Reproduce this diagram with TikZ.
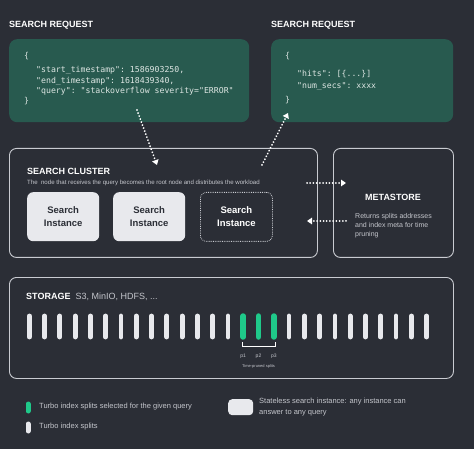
\documentclass[tikz,border=0pt]{standalone}
\usepackage{fontspec}
\setmainfont{Liberation Sans}
\setmonofont{DejaVu Sans Mono}
\usetikzlibrary{arrows.meta}
\definecolor{bg}{HTML}{2B2E36}
\definecolor{codebg}{HTML}{285A4F}
\definecolor{split}{HTML}{1FC98A}
\definecolor{pale}{HTML}{E8E9ED}
\definecolor{rim}{HTML}{C9CBD1}
\definecolor{codetxt}{HTML}{DDE6E3}
\definecolor{faint}{HTML}{C4C6CC}
\tikzstyle{head}=[font=\bfseries\fontsize{9}{11}\selectfont,text=white,anchor=west,inner sep=0pt]
\tikzstyle{panel}=[draw=rim,line width=.9pt,rounded corners=7pt,anchor=north west]
\tikzstyle{codebox}=[fill=codebg,rounded corners=8pt,anchor=north west]
\tikzstyle{code}=[font=\ttfamily\fontsize{8.2}{11}\selectfont,text=codetxt,anchor=west,inner sep=0pt]
\tikzstyle{inst}=[minimum width=72pt,minimum height=49pt,rounded corners=6pt,align=center,inner sep=0pt,anchor=north west,font=\bfseries\fontsize{9.5}{13}\selectfont]
\tikzstyle{note}=[font=\fontsize{7}{9}\selectfont,text=faint,anchor=west,inner sep=0pt,align=left]
\tikzstyle{flow}=[line width=2pt,white,line cap=round,dash pattern=on 0.01pt off 3.2pt,-{Triangle[length=5pt,width=6.5pt]}]
\tikzstyle{bar}=[line width=4.8pt,line cap=round,pale]
\tikzstyle{hit}=[line width=5.5pt,line cap=round,split]

\begin{document}
\begin{tikzpicture}[x=1pt,y=-1pt]
	\fill[bg] (0,0) rectangle (474,449);
	\useasboundingbox (0,0) rectangle (474,449);
	% requests
	\node[head] (reqlbl) at (9,25) {SEARCH REQUEST};
	\node[codebox,minimum width=240pt,minimum height=83pt] (req) at (9,39) {};
	\node[code] (q0) at (24,56) {\{};
	\node[code] (q1) at (36,70) {"start\_timestamp": 1586903250,};
	\node[code] (q2) at (36,81) {"end\_timestamp": 1618439340,};
	\node[code] (q3) at (36,91) {"query": "stackoverflow severity="ERROR"};
	\node[code] (q4) at (24,101) {\}};
	\node[head] (reslbl) at (271,25) {SEARCH REQUEST};
	\node[codebox,minimum width=182pt,minimum height=83pt] (res) at (271,39) {};
	\node[code] (r0) at (285,56) {\{};
	\node[code] (r1) at (297,74) {"hits": [\{...\}]};
	\node[code] (r2) at (297,86) {"num\_secs": xxxx};
	\node[code] (r3) at (285,100) {\}};
	% cluster
	\node[panel,minimum width=308pt,minimum height=109pt] (cluster) at (9,148) {};
	\node[head] (clulbl) at (27,171) {SEARCH CLUSTER};
	\node[note,font=\fontsize{6.1}{8}\selectfont] (clusub) at (27,183)
	  {The\ \ node that receives the query becomes the root node and distributes the workload};
	\node[inst,fill=pale,text=bg] (inst1) at (27,192) {Search\\Instance};
	\node[inst,fill=pale,text=bg] (inst2) at (113,192) {Search\\Instance};
	\node[inst,fill=bg,text=white,draw=rim,line width=.8pt,densely dotted] (inst3) at (200,192) {Search\\Instance};
	% metastore
	\node[panel,minimum width=120pt,minimum height=109pt] (meta) at (333,148) {};
	\node[head,anchor=center] (metalbl) at (393,197) {METASTORE};
	\node[note] (metasub) at (355,226) {Returns splits addresses\\and index meta for time\\pruning};
	% flows
	\coordinate (qout) at (137,110);
	\coordinate (qin) at (157,165);
	\coordinate (rout) at (262,165);
	\coordinate (rin) at (288,113);
	\coordinate (mout) at (307,183);
	\coordinate (min) at (346,183);
	\coordinate (bout) at (346,221);
	\coordinate (bin) at (307,221);
	\draw[flow] (qout) -- (qin);
	\draw[flow] (rout) -- (rin);
	\draw[flow] (mout) -- (min);
	\draw[flow] (bout) -- (bin);
	% storage
	\node[panel,minimum width=444pt,minimum height=101pt] (store) at (9,277) {};
	\node[head] (storelbl) at (26,297) {STORAGE\ \ \mdseries\color{faint}S3, MinIO, HDFS, ...};
	\foreach \i in {0,...,26} {
	  \pgfmathsetmacro\bx{29.3+15.28*\i}
	  \ifnum\i>13 \ifnum\i<17
	    \draw[hit] (\bx,316) -- (\bx,337);
	  \else
	    \draw[bar] (\bx,316) -- (\bx,337);
	  \fi\else
	    \draw[bar] (\bx,316) -- (\bx,337);
	  \fi
	}
	\draw[white,line width=1pt] (242,342) -- (242,346.5) -- (275.5,346.5) -- (275.5,342);
	\node[note,anchor=center,font=\fontsize{5}{6}\selectfont] (p1) at (243.2,356) {p1};
	\node[note,anchor=center,font=\fontsize{5}{6}\selectfont] (p2) at (258.5,356) {p2};
	\node[note,anchor=center,font=\fontsize{5}{6}\selectfont] (p3) at (273.8,356) {p3};
	\node[note,anchor=center,font=\fontsize{4}{5}\selectfont] (pruned) at (258.5,366) {Time-pruned splits};
	% legend
	\draw[hit,line width=5pt] (28,404) -- (28,411);
	\node[note,font=\fontsize{7.5}{10}\selectfont] (leghit) at (39,407) {Turbo index splits selected for the given query};
	\draw[bar,line width=5pt] (28,424) -- (28,431);
	\node[note,font=\fontsize{7.5}{10}\selectfont] (legbar) at (39,427) {Turbo index splits};
	\node[fill=pale,rounded corners=4pt,minimum width=25pt,minimum height=16pt,anchor=north west] (leginst) at (228,399) {};
	\node[note,font=\fontsize{7.5}{11}\selectfont] (leginsttxt) at (259,407.5) {Stateless search instance: any instance can\\answer to any query};
\end{tikzpicture}
\end{document}
